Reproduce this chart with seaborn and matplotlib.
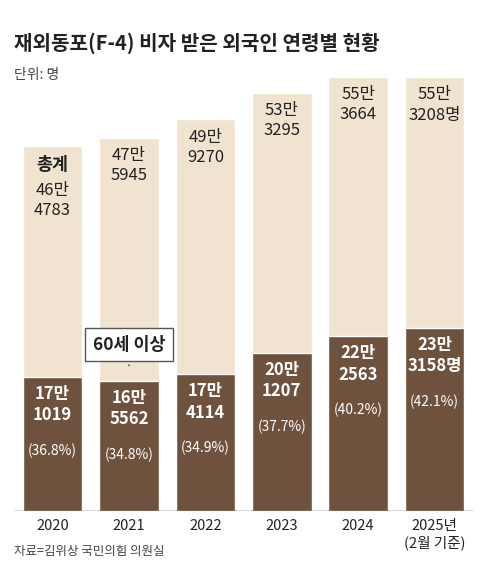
import matplotlib
matplotlib.use("Agg")
import matplotlib.pyplot as plt
import seaborn as sns
import pandas as pd

years = ["2020", "2021", "2022", "2023", "2024", "2025년\n(2월 기준)"]
total = [464783, 475945, 499270, 533295, 553664, 553208]
senior = [171019, 165562, 174114, 201207, 222563, 233158]
share = ["36.8%", "34.8%", "34.9%", "37.7%", "40.2%", "42.1%"]

sns.set_theme(style="white")
plt.rcParams['font.family'] = ['Noto Sans CJK KR', 'DejaVu Sans']

df = pd.DataFrame({"year": years, "total": total, "senior": senior})
light = "#f0e4d0"
dark = "#6e523d"

fig = plt.figure(figsize=(4.8, 5.77), dpi=100)
ax = fig.add_axes([0.03, 0.1144, 0.955, 0.765])
sns.barplot(data=df, x="year", y="total", color=light, width=0.78, saturation=1, ax=ax)
sns.barplot(data=df, x="year", y="senior", color=dark, width=0.78, saturation=1, ax=ax)
ax.set_ylim(0, 562600)
ax.set_xlim(-0.5, 5.5)
ax.set_xlabel("")
ax.set_ylabel("")
ax.set_yticks([])
ax.tick_params(axis="x", length=0, labelsize=10.5, colors="#222222", pad=6)
for s in ax.spines.values():
    s.set_visible(False)
ax.axhline(0, color="#333333", lw=1)

def fmt(v, unit=""):
    return f"{v // 10000}만\n{v % 10000}{unit}"

for i, (t, s, p) in enumerate(zip(total, senior, share)):
    unit = "명" if i == 5 else ""
    ty = t - 12000
    if i == 0:
        ax.text(i, ty, "총계", ha="center", va="top", fontsize=12.5, fontweight="bold", color="#222222")
        ty -= 33000
    ax.text(i, ty, fmt(t, unit), ha="center", va="top", fontsize=12, color="#222222", linespacing=1.25)
    ax.text(i, s - 10000, fmt(s, unit), ha="center", va="top", fontsize=12, fontweight="bold",
            color="white", linespacing=1.25)
    ax.text(i, s - 85000, f"({p})", ha="center", va="top", fontsize=10, color="white")

ax.annotate("60세 이상", xy=(1.0, 185000), xytext=(1.0, 212000), ha="center", va="center",
            fontsize=12.5, fontweight="bold", color="#222222",
            bbox=dict(boxstyle="square,pad=0.45", fc="white", ec="#555555", lw=1),
            arrowprops=dict(arrowstyle="-", color="#555555", lw=1))

fig.text(0.03, 0.925, "재외동포(F-4) 비자 받은 외국인 연령별 현황", fontsize=14.5, fontweight="bold",
         color="#222222", va="center")
fig.text(0.03, 0.87, "단위: 명", fontsize=10, color="#444444", va="center")
fig.text(0.03, 0.045, "자료=김위상 국민의힘 의원실", fontsize=9, color="#444444", va="center")

fig.savefig("out.png", dpi=100, facecolor="white")
